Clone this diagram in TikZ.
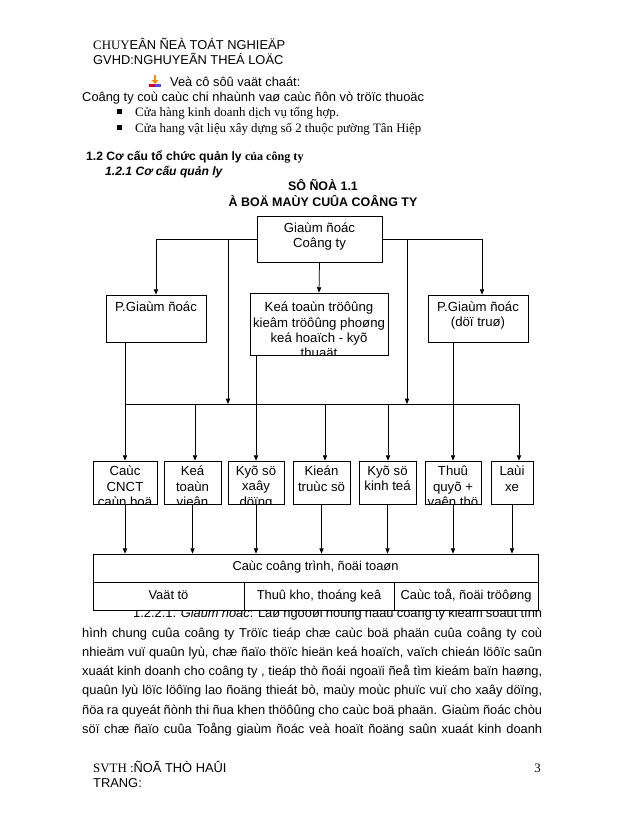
\documentclass[tikz,border=0pt]{standalone}
\usepackage{fontspec}
\setmainfont{Liberation Sans}
\newfontfamily\serif{Liberation Serif}
\usetikzlibrary{arrows.meta,fit}
\tikzset{
  box/.style={draw, line width=0.7pt, inner sep=0pt, fill=white},
  arr/.style={line width=0.7pt, -{Triangle[length=5pt,width=4pt]}},
  ln/.style={line width=0.7pt},
  txt/.style={inner sep=0pt, anchor=base west, font=\fontsize{12}{14}\selectfont},
  ctxt/.style={inner sep=0pt, anchor=base, font=\fontsize{12}{14}\selectfont},
  boxtext/.style={inner sep=0pt, align=center, font=\fontsize{12.3}{14.3}\selectfont},
}
% text placed in a box and clipped by it
\newcommand{\boxtxt}[3]{%
  \begin{scope}
    \clip (#1.south west) rectangle (#1.north east);
    \node[boxtext, anchor=north] (#1t) at ([yshift=#2]#1.north) {#3};
  \end{scope}}
\begin{document}
\begin{tikzpicture}[x=0.9326pt, y=-0.9326pt]
\useasboundingbox[fill=white] (0,0) rectangle (638,826);

% ---------- header text ----------
\node[txt] (h1) at (93,50) {{\serif CHUY}EÂN ÑEÀ TOÁT NGHIEÄP};
\node[txt] (h2) at (93,65) {GVHD:NGHUYEÃN THEÁ LOÄC};
% icon
\fill[red!70!violet] (149,84) rectangle (155,86.5);
\fill[blue!70] (155,84) rectangle (161,86.5);
\fill[orange!90!yellow] (154,75) rectangle (156,81);
\fill[orange!90!yellow] (151.5,80) -- (158.5,80) -- (155,84) -- cycle;
\node[txt] (t1) at (170,86) {Veà cô sôû vaät chaát:};
\node[txt] (t2) at (82,101) {Coâng ty coù caùc chi nhaùnh vaø caùc ñôn vò tröïc thuoäc};
\fill (117,109) rectangle (121.5,113.5);
\fill (117,125) rectangle (121.5,129.5);
\node[txt] (b1t) at (135,116) {\serif Cửa hàng kinh doanh dịch vụ tổng hợp.};
\node[txt] (b2t) at (135,132) {\serif Cửa hang vật liệu xây dựng số 2 thuộc pường Tân Hiệp};
\node[txt, font=\fontsize{11.3}{13}\selectfont] (s12) at (86,160) {\bfseries 1.2 Cơ cấu tổ chức quản ly {\serif của công ty}};
\node[txt, font=\fontsize{11.3}{13}\selectfont] (s121) at (105,175) {\bfseries\itshape 1.2.1 Cơ cấu quản ly};
\node[ctxt, font=\fontsize{11.6}{13}\selectfont] (ttl1) at (323,190) {\bfseries SÔ ÑOÀ 1.1};
\node[ctxt, font=\fontsize{11.6}{13}\selectfont] (ttl2) at (323,206) {\bfseries À BOÄ MAÙY CUÛA COÂNG TY};

% ---------- paragraph (drawn first, partly covered by table) ----------
\node[txt] (p1) at (133,617.5) {\makebox[381.4pt][s]{1.2.2.1. \textit{Giaùm ñoác}: Laø ngöôøi ñöùng ñaàu coâng ty kieåm soaùt tình}};
\node[txt] (p2) at (82,637) {\makebox[429pt][s]{hình chung cuûa coâng ty Tröïc tieáp chæ caùc boä phaän cuûa coâng ty coù}};
\node[txt] (p3) at (82,656.3) {\makebox[429pt][s]{nhieäm vuï quaûn lyù, chæ ñaïo thöïc hieän keá hoaïch, vaïch chieán löôïc saûn}};
\node[txt] (p4) at (82,675.6) {\makebox[429pt][s]{xuaát kinh doanh cho coâng ty , tieáp thò ñoái ngoaïi ñeå tìm kieám baïn haøng,}};
\node[txt] (p5) at (82,694.9) {\makebox[429pt][s]{quaûn lyù löïc löôïng lao ñoäng thieát bò, maùy moùc phuïc vuï cho xaây döïng,}};
\node[txt] (p6) at (82,714.2) {\makebox[429pt][s]{ñöa ra quyeát ñònh thi ñua khen thöôûng cho caùc boä phaän. Giaùm ñoác chòu}};
\node[txt] (p7) at (82,733.5) {\makebox[429pt][s]{söï chæ ñaïo cuûa Toång giaùm ñoác veà hoaït ñoäng saûn xuaát kinh doanh}};

% ---------- footer ----------
\node[txt] (f1) at (93,772) {{\serif SVTH :}ÑOÃ THÒ HAÛI};
\node[txt] (f2) at (93,787) {TRANG:};
\node[inner sep=0pt, anchor=base east, font=\fontsize{12}{14}\selectfont] (pg) at (541,772) {\serif 3};

% ---------- chart boxes ----------
\node[box, fit={(257,216)(382,262)}] (gd) {};
\node[box, fit={(106,295)(206,342)}] (pg1) {};
\node[box, fit={(250,293)(388,355)}] (ktt) {};
\node[box, fit={(428,295)(528,342)}] (pg2) {};
\boxtxt{gd}{-6.2pt}{Giaùm ñoác\\Coâng ty}
\boxtxt{pg1}{-6.2pt}{P.Giaùm ñoác}
\boxtxt{pg2}{-6.2pt}{P.Giaùm ñoác\\(döï truø)}
\boxtxt{ktt}{-8.5pt}{Keá toaùn tröôûng\\kieâm tröôûng phoøng\\keá hoaïch - kyõ\\thuaät}

\node[box, fit={(93,461)(157,504)}]  (c1) {};
\node[box, fit={(164,461)(221,504)}] (c2) {};
\node[box, fit={(228,461)(284,504)}] (c3) {};
\node[box, fit={(293,461)(350,504)}] (c4) {};
\node[box, fit={(359,461)(416,504)}] (c5) {};
\node[box, fit={(425,461)(481,504)}] (c6) {};
\node[box, fit={(491,461)(533,504)}] (c7) {};
\boxtxt{c1}{-5pt}{Caùc\\CNCT\\caùn boä}
\boxtxt{c2}{-5pt}{Keá\\toaùn\\vieân}
\boxtxt{c3}{-5pt}{Kyõ sö\\xaây\\döïng}
\boxtxt{c4}{-5pt}{Kieán\\truùc sö}
\boxtxt{c5}{-5pt}{Kyõ sö\\kinh teá}
\boxtxt{c6}{-5pt}{Thuû\\quyõ +\\vaên thö}
\boxtxt{c7}{-5pt}{Laùi\\xe}

% table
\node[box, fit={(93,554)(538,610)}] (tbl) {};
\coordinate (tl) at (93,582);
\coordinate (tr) at (538,582);
\coordinate (v1) at (244,582);
\coordinate (v2) at (394,582);
\draw[ln] (tl) -- (tr);
\draw[ln] (v1) -- (v1 |- tbl.south);
\draw[ln] (v2) -- (v2 |- tbl.south);
\node[ctxt] (tt) at (315.5,570.5) {Caùc coâng trình, ñoäi toaøn};
\node[ctxt] (ta) at (168.5,599.5) {Vaät tö};
\node[ctxt] (tb) at (319,599.5) {Thuû kho, thoáng keâ};
\node[ctxt] (tc) at (466,599.5) {Caùc toå, ñoäi tröôøng};

% ---------- connectors ----------
\coordinate (ra) at (482,239);
\draw[arr] (gd.west) -| (pg1.north);
\draw[arr] (gd.east) -- (ra) -- (ra |- pg2.north);
\draw[arr] (gd.south) -- (ktt.north);

\coordinate (bl) at (125,404);
\coordinate (br) at (519,404);
\draw[ln] (bl) -- (br);
\coordinate (vl) at (228,239);
\coordinate (vr) at (407,239);
\draw[arr] (vl) -- (vl |- bl);
\draw[arr] (vr) -- (vr |- bl);

\draw[arr] (pg1.south -| c1.north) -- (c1.north);
\draw[arr] (ktt.south -| c3.north) -- (c3.north);
\draw[arr] (pg2.south -| c6.north) -- (c6.north);
\coordinate (d2) at (195,404);
\coordinate (d4) at (325,404);
\coordinate (d5) at (388,404);
\draw[arr] (d2) -- (d2 |- c2.north);
\draw[arr] (d4) -- (d4 |- c4.north);
\draw[arr] (d5) -- (d5 |- c5.north);
\draw[arr] (br) -- (br |- c7.north);

\foreach \c in {c1,c2,c3,c4,c5,c6,c7}{
  \draw[arr] (\c.south) -- (\c.south |- tbl.north);
}
\end{tikzpicture}
\end{document}
